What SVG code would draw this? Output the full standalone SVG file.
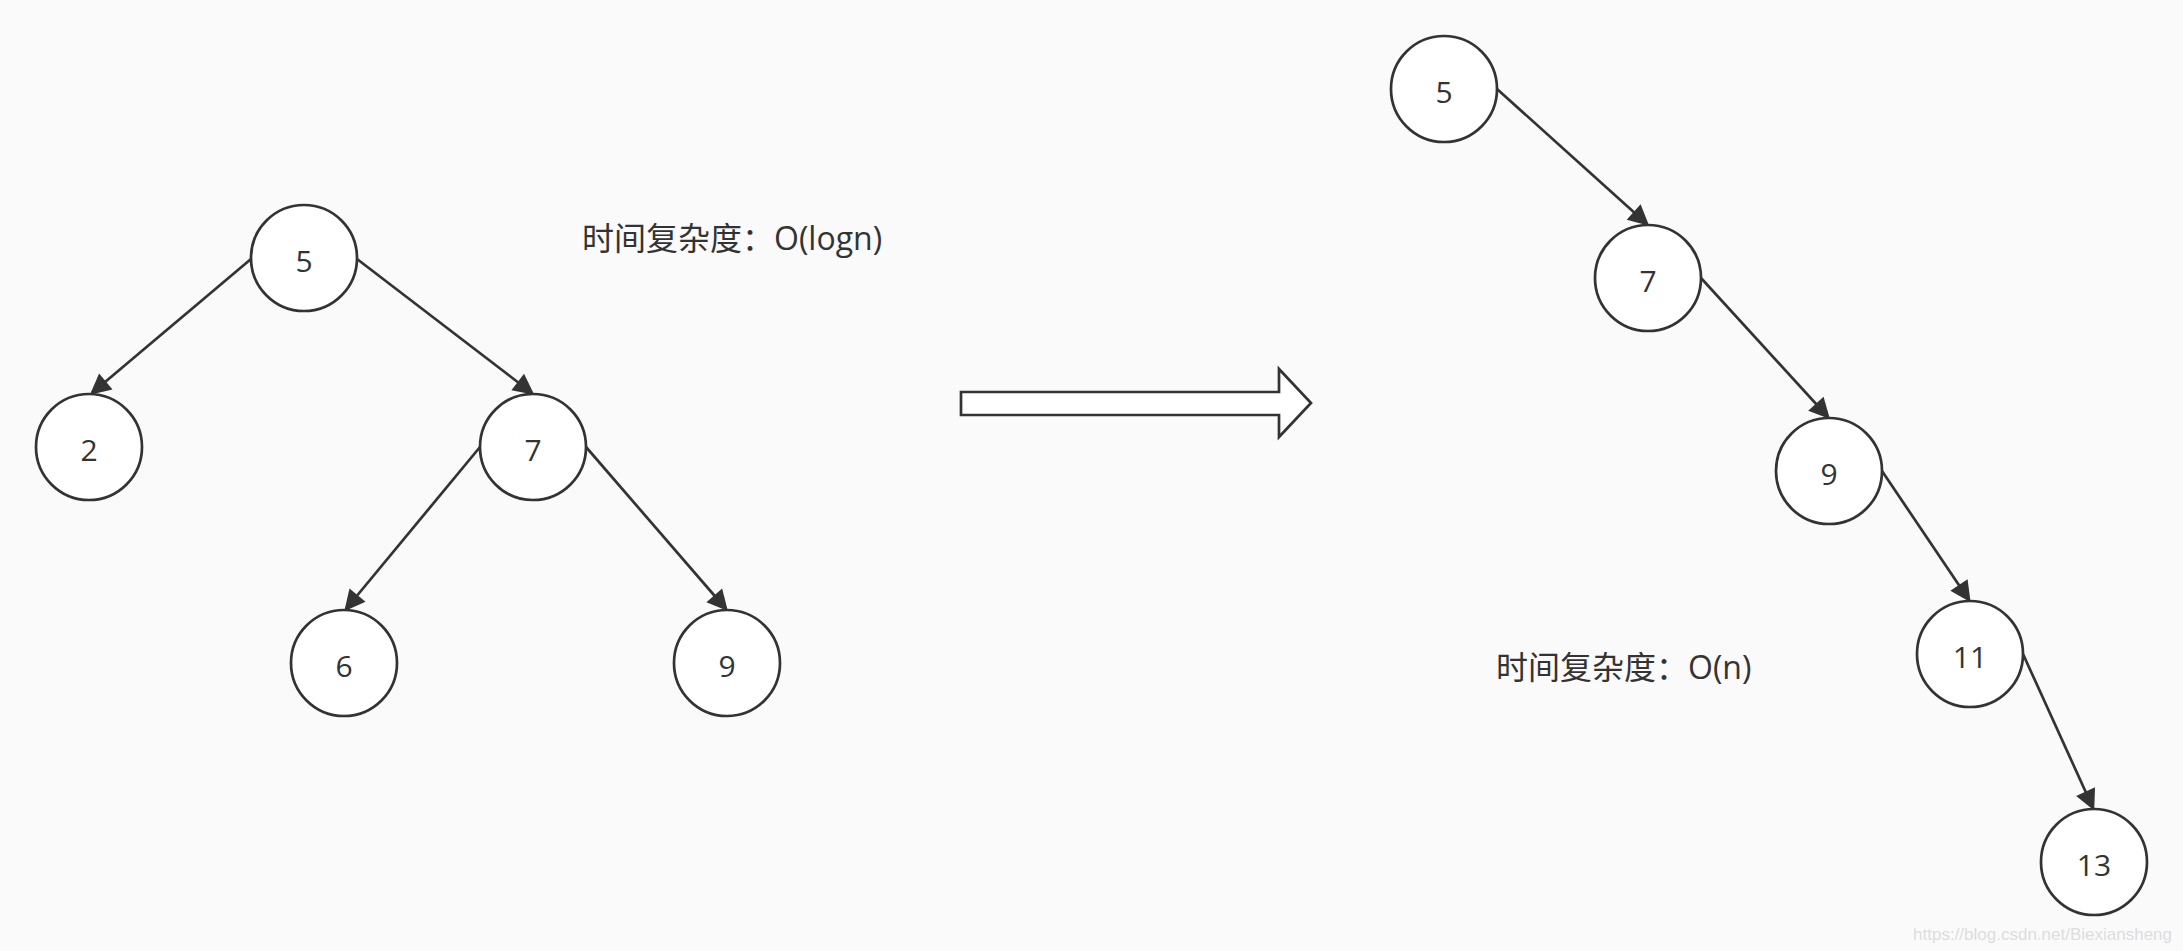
<svg xmlns="http://www.w3.org/2000/svg" width="2183" height="951" viewBox="0 0 2183 951">
<style>
.n circle{fill:#fff;stroke:#333;stroke-width:2.7}
.n text,.t{font-family:"Open Sans","Noto Sans CJK SC",sans-serif;fill:#333}
.n text{font-size:30px;text-anchor:middle;dominant-baseline:central}
.t{font-size:32px}
#edges line{stroke:#333;stroke-width:2.7;marker-end:url(#a)}
</style>
<defs><marker id="a" viewBox="0 0 10 10" refX="9" refY="5" markerWidth="8" markerHeight="8" markerUnits="userSpaceOnUse" orient="auto" style="overflow:visible"><path d="M0,0 L10,5 L0,10 Z" fill="#333" transform="scale(2.6) translate(-5.2,-3.1)"/></marker></defs>
<rect width="2183" height="951" fill="#fafafa"/>
<g id="edges">
<line x1="251" y1="259" x2="92" y2="393"/>
<line x1="357" y1="259" x2="532" y2="393"/>
<line x1="480" y1="447" x2="346" y2="609"/>
<line x1="586" y1="447" x2="726" y2="609"/>
<line x1="1497" y1="89" x2="1647" y2="224"/>
<line x1="1701" y1="278" x2="1828" y2="417"/>
<line x1="1882" y1="471" x2="1969" y2="600"/>
<line x1="2023" y1="654" x2="2093" y2="808"/>
</g>
<g id="n5" class="n"><circle cx="304" cy="258" r="53"/><text x="304" y="260">5</text></g>
<g id="n2" class="n"><circle cx="89" cy="447" r="53"/><text x="89" y="449">2</text></g>
<g id="n7" class="n"><circle cx="533" cy="447" r="53"/><text x="533" y="449">7</text></g>
<g id="n6" class="n"><circle cx="344" cy="663" r="53"/><text x="344" y="665">6</text></g>
<g id="n9" class="n"><circle cx="727" cy="663" r="53"/><text x="727" y="665">9</text></g>
<g id="r5" class="n"><circle cx="1444" cy="89" r="53"/><text x="1444" y="91">5</text></g>
<g id="r7" class="n"><circle cx="1648" cy="278" r="53"/><text x="1648" y="280">7</text></g>
<g id="r9" class="n"><circle cx="1829" cy="471" r="53"/><text x="1829" y="473">9</text></g>
<g id="r11" class="n"><circle cx="1970" cy="654" r="53"/><text x="1970" y="656">11</text></g>
<g id="r13" class="n"><circle cx="2094" cy="862" r="53"/><text x="2094" y="864">13</text></g>
<g id="bigarrow"><path d="M961,392 H1279 V369 L1311,403 L1279,437 V415 H961 Z" fill="#fff" stroke="#333" stroke-width="2.7"/></g>
<text class="t" x="582" y="250">时间复杂度：O(logn)</text>
<text class="t" x="1496" y="679">时间复杂度：O(n)</text>
<text x="2172" y="940" text-anchor="end" font-family="Liberation Sans,Arial,sans-serif" font-size="17" fill="#ddd">https://blog.csdn.net/Biexiansheng</text>
</svg>
